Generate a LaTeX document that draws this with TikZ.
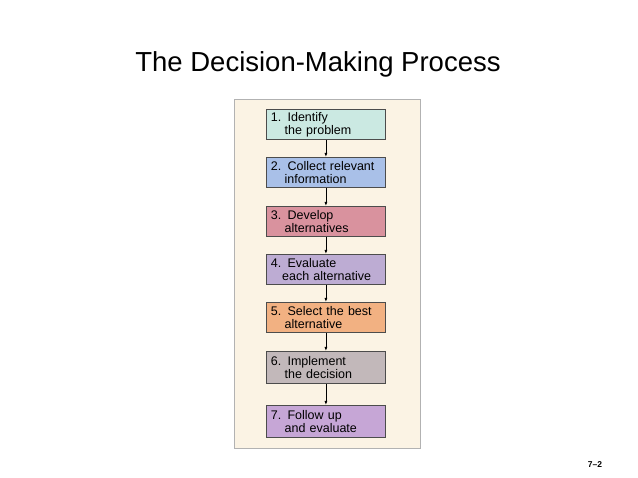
\documentclass[tikz,border=0pt]{standalone}
\usepackage{fontspec}
\setmainfont{Liberation Sans}
\usetikzlibrary{arrows.meta}
\definecolor{panel}{HTML}{FBF3E4}
\definecolor{c1}{HTML}{CBE9E2}
\definecolor{c2}{HTML}{A9C0E8}
\definecolor{c3}{HTML}{D9929E}
\definecolor{c4}{HTML}{BDACD3}
\definecolor{c5}{HTML}{F2B182}
\definecolor{c6}{HTML}{C2B8BA}
\definecolor{c7}{HTML}{C6A6D6}
\begin{document}
\begin{tikzpicture}[x=1pt,y=-1pt,
  stepbox/.style={draw=black!70,line width=0.8pt,minimum width=119pt,minimum height=30pt,inner xsep=0pt,inner ysep=1pt,font=\fontsize{12.5}{13}\selectfont,align=left,anchor=north west,text width=110pt},
  arr/.style={-{Latex[length=4pt,width=3pt]},line width=0.8pt}]
\useasboundingbox (0,0) rectangle (638,478);
\fill[white] (0,0) rectangle (638,478);
\node[font=\fontsize{27.5}{30}\selectfont] (title) at (318,64) {The Decision-Making Process};
\draw[fill=panel,draw=black!30] (234,99) rectangle (420,448);
\node[stepbox,fill=c1] (b1) at (266,109) {1. Identify\\\hspace*{1.1em}the problem};
\node[stepbox,fill=c2] (b2) at (266,157) {2. Collect relevant\\\hspace*{1.1em}information};
\node[stepbox,fill=c3] (b3) at (266,206) {3. Develop\\\hspace*{1.1em}alternatives};
\node[stepbox,fill=c4] (b4) at (266,254) {4. Evaluate\\\hspace*{0.9em}each alternative};
\node[stepbox,fill=c5] (b5) at (266,302) {5. Select the best\\\hspace*{1.1em}alternative};
\node[stepbox,fill=c6,minimum height=32pt] (b6) at (266,351) {6. Implement\\\hspace*{1.1em}the decision};
\node[stepbox,fill=c7,minimum height=32pt] (b7) at (266,405) {7. Follow up\\\hspace*{1.1em}and evaluate};
\foreach \a/\b in {b1/b2,b2/b3,b3/b4,b4/b5,b5/b6,b6/b7}
  \draw[arr] (\a.south) -- (\b.north);
\node[font=\bfseries\fontsize{8.5}{9}\selectfont] (pg) at (595,465) {7--2};
\end{tikzpicture}
\end{document}
